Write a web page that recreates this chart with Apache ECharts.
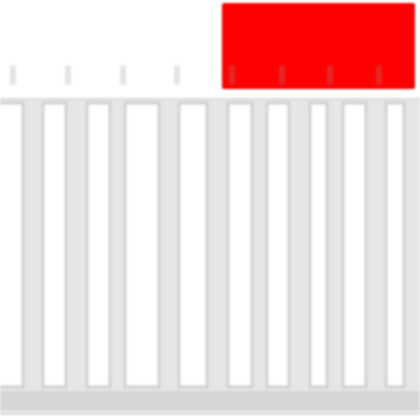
<!DOCTYPE html>
<html>
<head>
<meta charset="utf-8">
<style>
  html, body { margin: 0; padding: 0; background: #ffffff; }
  #chart { width: 420px; height: 420px; filter: blur(1.2px); }
</style>
<script src="https://cdn.jsdelivr.net/npm/echarts@6/dist/echarts.min.js"></script>
</head>
<body>
<div id="chart"></div>
<script>
// 白色立柱的左右边界（图面坐标，0~420）
const columnLeft = [-10, 43, 87, 125, 179, 228, 267, 310, 343, 386];
const columnRight = [23, 66, 110, 159, 207, 252, 289, 327, 366, 404];
const columnTop = 103;
const columnBottom = 387;

// 灰色底座与底部色带
const floorBox = [[-10, 99, 430, 414]];
const bandBox = [[-10, 391, 430, 410]];

// 右上角红色块
const redBox = [[222, 3, 415, 89]];

// 顶部小刻度的中心位置
const tickX = [13, 68, 123, 177, 232, 282, 330, 379];
const tickTop = 65;
const tickBottom = 85;

const chart = echarts.init(document.getElementById("chart"), null, { renderer: "canvas" });

// 把 [x0, y0, x1, y1] 画成矩形
function boxRenderer(style) {
    return function (params, api) {
        const p0 = api.coord([api.value(0), api.value(1)]);
        const p1 = api.coord([api.value(2), api.value(3)]);
        return {
            type: "rect",
            shape: { x: p0[0], y: p0[1], width: p1[0] - p0[0], height: p1[1] - p0[1], r: style.r || 0 },
            style: { fill: style.fill, stroke: style.stroke || null, lineWidth: style.lineWidth || 0 }
        };
    };
}

const columnData = columnLeft.map((x, i) => [x, columnTop, columnRight[i], columnBottom]);
const tickData = tickX.map(x => [x - 3, tickTop, x + 3, tickBottom]);

chart.setOption({
    animation: false,
    backgroundColor: "#ffffff",
    grid: { left: 0, right: 0, top: 0, bottom: 0 },
    xAxis: { type: "value", min: 0, max: 420, show: false },
    yAxis: { type: "value", min: 0, max: 420, inverse: true, show: false },
    series: [
        { type: "custom", data: floorBox, clip: true, renderItem: boxRenderer({ fill: "#e6e6e6", stroke: "#dcdcdc", lineWidth: 2 }) },
        { type: "custom", data: bandBox, clip: true, renderItem: boxRenderer({ fill: "#d6d6d6" }) },
        { type: "custom", data: columnData, clip: true, renderItem: boxRenderer({ fill: "#ffffff", stroke: "#d2d2d2", lineWidth: 3 }) },
        { type: "custom", data: redBox, clip: true, renderItem: boxRenderer({ fill: "#ff0000", r: 2 }) },
        { type: "custom", data: tickData, clip: true, renderItem: boxRenderer({ fill: "rgba(150,150,150,0.25)", r: 3 }) }
    ]
});
</script>
</body>
</html>
